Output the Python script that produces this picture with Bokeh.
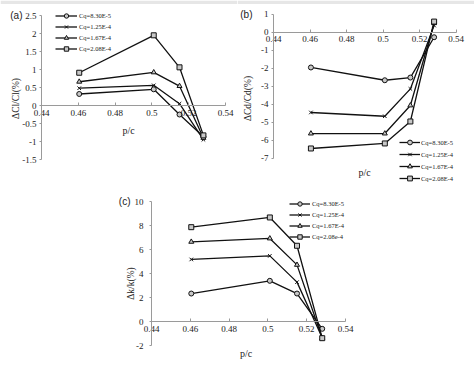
import math
from bokeh.plotting import figure
from bokeh.models import FixedTicker, Legend, LegendItem, Label, Range1d, BoxAnnotation
from bokeh.layouts import column, row
from bokeh.embed import file_html
from bokeh.resources import INLINE

# ---------------- data ----------------
pc = [0.4605, 0.501, 0.515, 0.528]
names_ab = ["Cq=8.30E-5", "Cq=1.25E-4", "Cq=1.67E-4", "Cq=2.08E-4"]
names_c = ["Cq=8.30E-5", "Cq=1.25E-4", "Cq=1.67E-4", "Cq=2.08e-4"]
markers = ["circle", "x", "triangle", "square"]

# (a) dCl/Cl (%)
cl_830e5 = [0.32, 0.45, -0.25, -0.87]
cl_125e4 = [0.48, 0.56, 0.05, -0.95]
cl_167e4 = [0.66, 0.92, 0.54, -0.90]
cl_208e4 = [0.91, 1.95, 1.06, -0.83]

# (b) dCd/Cd (%)
cd_830e5 = [-1.96, -2.67, -2.52, -0.28]
cd_125e4 = [-4.46, -4.67, -3.15, 0.37]
cd_167e4 = [-5.63, -5.63, -4.07, 0.50]
cd_208e4 = [-6.46, -6.18, -4.96, 0.59]

# (c) dk/k (%)
k_830e5 = [2.33, 3.39, 2.33, -0.61]
k_125e4 = [5.17, 5.47, 3.28, -1.35]
k_167e4 = [6.64, 6.92, 4.72, -1.40]
k_208e4 = [7.86, 8.67, 6.31, -1.39]

x_ticks = [0.44, 0.46, 0.48, 0.5, 0.52, 0.54]
x_tick_labels = ["0.44", "0.46", "0.48", "0.5", "0.52", "0.54"]
a_y_ticks = [-1.5, -1, -0.5, 0, 0.5, 1, 1.5, 2, 2.5]
a_y_labels = ["-1.5", "-1", "-0.5", "0", "0.5", "1", "1.5", "2", "2.5"]
b_y_ticks = [-7, -6, -5, -4, -3, -2, -1, 0, 1]
b_y_labels = ["-7", "-6", "-5", "-4", "-3", "-2", "-1", "0", "1"]
c_y_ticks = [-2, 0, 2, 4, 6, 8, 10]
c_y_labels = ["-2", "0", "2", "4", "6", "8", "10"]

SERIF = "Liberation Serif"
SANS = "Liberation Sans"
AXC = "#9a9a9a"
TXT = "#222222"


def make_panel(W, H, ox, oy, sx, sy, y_bounds, yt, yl, series, names,
               leg_loc, leg_h, leg_gw, leg_standoff,
               tag, tag_y, tag_off, ylab, ylab_xy, pc_xy, ylab_standoff,
               top_band=False):
    """ox, oy: pixel position (inside this figure, from top-left) of the
    point (0.44, 0); sx, sy: pixels per data unit."""
    x_rng = (0.44 - ox / sx, 0.44 + (W - ox) / sx)
    y_rng = (-(H - oy) / sy, oy / sy)
    p = figure(width=W, height=H, x_range=Range1d(*x_rng),
               y_range=Range1d(*y_rng), output_backend="svg",
               toolbar_location=None, min_border=0)
    p.outline_line_color = None
    p.grid.visible = False
    p.background_fill_color = "white"

    def px(xp):
        return 0.44 + (xp - ox) / sx

    def py(yp):
        return (oy - yp) / sy

    if top_band:
        p.add_layout(BoxAnnotation(bottom=py(3.5), top=y_rng[1],
                                   fill_color="#e6e6e6", fill_alpha=1,
                                   line_color=None, level="underlay"))

    xa = p.xaxis[0]
    xa.fixed_location = 0
    xa.ticker = FixedTicker(ticks=x_ticks)
    xa.major_label_overrides = dict(zip(x_ticks, x_tick_labels))
    xa.bounds = (0.44, 0.54)
    xa.minor_tick_line_color = None
    xa.major_tick_in = 3
    xa.major_tick_out = 0
    xa.axis_line_color = AXC
    xa.major_tick_line_color = AXC
    xa.major_label_text_font = SERIF
    xa.major_label_text_font_size = "9px"
    xa.major_label_text_color = TXT
    xa.major_label_standoff = 4

    ya = p.yaxis[0]
    ya.fixed_location = 0.44
    ya.ticker = FixedTicker(ticks=yt)
    ya.major_label_overrides = dict(zip(yt, yl))
    ya.bounds = y_bounds
    ya.minor_tick_line_color = None
    ya.major_tick_in = 0
    ya.major_tick_out = 2
    ya.axis_line_color = AXC
    ya.major_tick_line_color = AXC
    ya.major_label_text_font = SERIF
    ya.major_label_text_font_size = "9px"
    ya.major_label_text_color = TXT
    ya.major_label_standoff = ylab_standoff

    items = []
    for vals, name, mk in zip(series, names, markers):
        l = p.line(pc, vals, line_color="#111111", line_width=1.3)
        s = p.scatter(pc, vals, marker=mk, size=5, line_color="#111111",
                      fill_color="#c8c8c8", line_width=1)
        items.append(LegendItem(label=name, renderers=[l, s]))
    leg = Legend(items=items, location=leg_loc, padding=0, margin=0,
                 spacing=0, glyph_width=leg_gw, glyph_height=leg_h,
                 label_height=leg_h, label_standoff=leg_standoff,
                 label_text_font=SERIF, label_text_font_size="6.5px",
                 label_text_color=TXT,
                 background_fill_alpha=0, border_line_color=None)
    p.add_layout(leg)

    p.add_layout(Label(x=0.44, y=tag_y, x_offset=tag_off, text=tag,
                       text_align="right", text_baseline="middle",
                       text_font=SANS, text_font_size="10px",
                       text_color=TXT))
    p.add_layout(Label(x=px(pc_xy[0]), y=py(pc_xy[1]), text="p/c",
                       text_align="center", text_baseline="middle",
                       text_font=SERIF, text_font_size="10px",
                       text_color=TXT))
    p.add_layout(Label(x=px(ylab_xy[0]), y=py(ylab_xy[1]), text=ylab,
                       angle=math.pi / 2, text_align="center",
                       text_baseline="middle", text_font=SERIF,
                       text_font_size="9.5px", text_color=TXT))
    return p


# (a) figure at page (0,0), 237x185
pa = make_panel(237, 185, 41, 105, 1840.0, 36.0, (-1.5, 2.5),
                a_y_ticks, a_y_labels,
                [cl_830e5, cl_125e4, cl_167e4, cl_208e4], names_ab,
                (55, 131), 11, 22, 2,
                "(a)", 2.5, -19, "ΔCl/Cl(%)", (15, 98), (128, 130), 3,
                top_band=True)

# (b) figure at page (237,0), 237x185
pb = make_panel(237, 185, 36, 31.7, 1825.0, 18.0, (-7, 1),
                b_y_ticks, b_y_labels,
                [cd_830e5, cd_125e4, cd_167e4, cd_208e4], names_ab,
                (162, 1), 12, 21, 1,
                "(b)", 1, -21, "ΔCd/Cd(%)", (10, 98), (127, 172), 3,
                top_band=True)

# (c) figure at page (0,185), 474x181
pcf = make_panel(474, 181, 151, 136, 1940.0, 12.0, (-2, 10),
                 c_y_ticks, c_y_labels,
                 [k_830e5, k_125e4, k_167e4, k_208e4], names_c,
                 (289, 124), 11, 21, 2,
                 "(c)", 10, -21, "Δk/k(%)", (130, 98), (245.7, 167.7), 6)

layout = column(row(pa, pb), pcf)
open("out.html", "w").write(file_html(layout, INLINE))
